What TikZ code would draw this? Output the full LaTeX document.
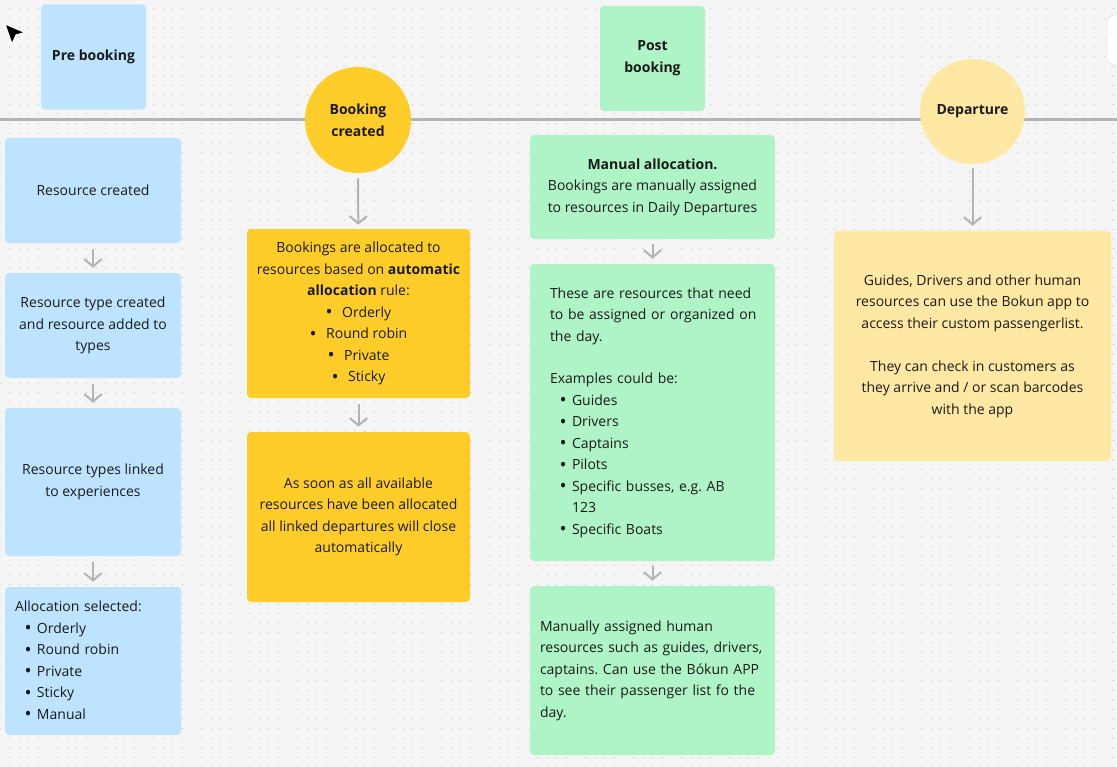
\documentclass[tikz,border=0pt]{standalone}
\usepackage{fontspec}
\setmainfont{Open Sans}
\usetikzlibrary{arrows.meta,patterns.meta}
\definecolor{bgc}{HTML}{F5F5F5}
\definecolor{dotc}{HTML}{BABABA}
\definecolor{bluec}{HTML}{BDE3FF}
\definecolor{greenc}{HTML}{AFF4C6}
\definecolor{yelc}{HTML}{FFCD29}
\definecolor{lyelc}{HTML}{FFE8A3}
\definecolor{linec}{HTML}{B3B3B3}
\definecolor{txtc}{HTML}{1A1A1A}
\frenchspacing
\newcommand{\bdot}{\raisebox{-1.1pt}{\scalebox{1.35}{•}}}
\newcommand{\bitem}[1]{\makebox[16.5pt][l]{\hspace*{7.3pt}\bdot}#1}
\begin{document}
\begin{tikzpicture}[x=0.75pt,y=-0.75pt,
  every node/.style={text=txtc, font=\fontsize{10.5pt}{16.1pt}\selectfont, inner sep=0pt},
  card/.style={rectangle, rounded corners=3pt, align=center},
  title/.style={font=\fontsize{10.5pt}{16.5pt}\selectfont\bfseries},
  bluebox/.style={card, fill=bluec, minimum width=132pt},
  yelbox/.style={card, fill=yelc, minimum width=167.25pt},
  greenbox/.style={card, fill=greenc, minimum width=183.75pt},
  lyelbox/.style={card, fill=lyelc, minimum width=207.75pt},
  stage/.style={circle, minimum size=79.5pt, title},
  arr/.style={draw=linec, line width=1.5pt, -{Straight Barb[length=5.5pt,width=13pt]}},
  divider/.style={draw=linec, line width=1.8pt}
]
\useasboundingbox (0,0) rectangle (1117,767);
\clip (0,0) rectangle (1117,767);
\fill[bgc] (0,0) rectangle (1117,767);
\fill[pattern={Dots[distance=7.2pt,radius=0.45pt]}, pattern color=dotc] (0,0) rectangle (1117,767);

% divider line
\coordinate (l0) at (0,119.5);
\coordinate (l1) at (1117,119.5);
\draw[divider] (l0) -- (l1);

% top right partial element
\draw[fill=white, draw=black!10, rounded corners=6pt] (1107,15) rectangle (1140,65);

% cursor
\filldraw[fill=black, draw=white, line width=0.8pt, line join=round]
  (5,24) -- (25,32.5) -- (16,35) -- (12,44) -- cycle;

% headers
\node[card, fill=bluec, minimum width=78.75pt, minimum height=78.75pt, title] (pre) at (93.5,57) {Pre booking};
\node[card, fill=greenc, minimum width=78.75pt, minimum height=78.75pt, title] (post) at (652.5,58.5) {Post\\booking};
\node[stage, fill=yelc, align=center] (bc) at (358,120) {Booking\\created};
\node[stage, fill=lyelc, minimum size=78.75pt] (dep) at (972.5,111.5) {Departure};

% left column
\node[bluebox, minimum height=78.75pt] (r1) at (93,190.5) {Resource created};
\node[bluebox, minimum height=78.75pt] (r2) at (93,325.5) {Resource type created\\and resource added to\\types};
\node[bluebox, minimum height=111pt] (r3) at (93,482) {Resource types linked\\to experiences};
\node[bluebox, minimum height=111pt, align=left, text width=117pt, inner xsep=7.5pt] (r4) at (93,661)
  {Allocation selected:\\\bitem{Orderly}\\\bitem{Round robin}\\\bitem{Private}\\\bitem{Sticky}\\\bitem{Manual}};

% middle column
\node[yelbox, minimum height=126.75pt] (y1) at (358.5,313.5)
  {Bookings are allocated to\\resources based on \textbf{automatic}\\\textbf{allocation} rule:\\\bdot\hspace{7pt}Orderly\\\bdot\hspace{7pt}Round robin\\\bdot\hspace{7pt}Private\\\bdot\hspace{7pt}Sticky};
\node[yelbox, minimum height=127.5pt] (y2) at (358.5,517)
  {As soon as all available\\resources have been allocated\\all linked departures will close\\automatically};

% green column
\node[greenbox, minimum height=78pt] (g1) at (652.5,187)
  {\textbf{Manual allocation.}\\Bookings are manually assigned\\to resources in Daily Departures};
\node[greenbox, minimum height=222.75pt, align=left, text width=153.75pt, inner xsep=15pt] (g2) at (652.5,412.5)
  {These are resources that need\\\mbox{to be assigned or organized on}\\the day.\\[16.1pt]Examples could be:\\\bitem{Guides}\\\bitem{Drivers}\\\bitem{Captains}\\\bitem{Pilots}\\\bitem{Specific busses, e.g. AB}\\\hspace*{16.5pt}123\\\bitem{Specific Boats}};
\node[greenbox, minimum height=126.75pt, align=left, text width=168.75pt, inner xsep=7.5pt] (g3) at (652.5,670.5)
  {Manually assigned human\\resources such as guides, drivers,\\captains. Can use the Bókun APP\\to see their passenger list fo the\\day.};

% departure box
\node[lyelbox, minimum height=172.5pt] (d1) at (972.5,346)
  {Guides, Drivers and other human\\resources can use the Bokun app to\\access their custom passengerlist.\\[16.1pt]They can check in customers as\\they arrive and / or scan barcodes\\with the app};

% connectors
\draw[arr, shorten <=4.5pt, shorten >=3.75pt] (r1) -- (r2);
\draw[arr, shorten <=4.5pt, shorten >=3.75pt] (r2) -- (r3);
\draw[arr, shorten <=4.5pt, shorten >=3.75pt] (r3) -- (r4);
\draw[arr, shorten <=3.75pt, shorten >=3pt] (bc) -- (y1);
\draw[arr, shorten <=4.5pt, shorten >=3.75pt] (y1) -- (y2);
\draw[arr, shorten <=3.75pt, shorten >=3.75pt] (g1) -- (g2);
\draw[arr, shorten <=3.75pt, shorten >=3.75pt] (g2) -- (g3);
\draw[arr, shorten <=3pt, shorten >=3.75pt] (dep) -- (d1);
\end{tikzpicture}
\end{document}
